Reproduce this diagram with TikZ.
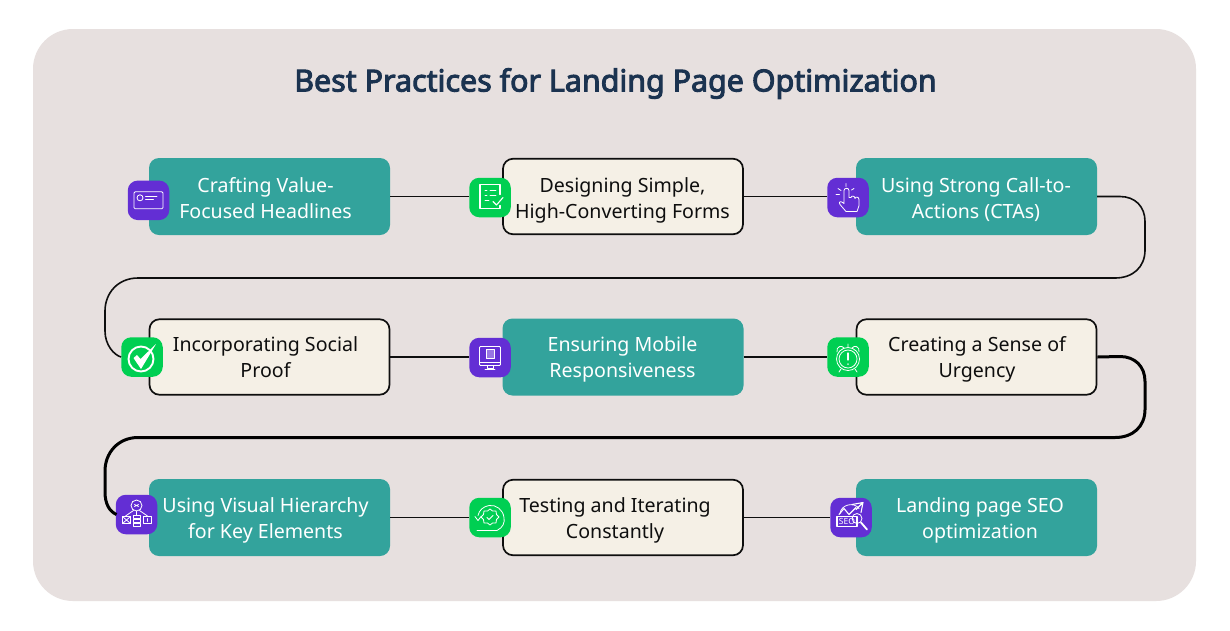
\documentclass[tikz,border=0pt]{standalone}
\usepackage{fontspec}
\setmainfont{Noto Sans}
\newfontfamily\titlefont[FakeBold=3.2]{Noto Sans}
\usetikzlibrary{calc}
\definecolor{panel}{HTML}{E7E0DF}
\definecolor{tealbox}{HTML}{33A39C}
\definecolor{creambox}{HTML}{F5F0E6}
\definecolor{purpleic}{HTML}{632ED4}
\definecolor{greenic}{HTML}{00CF52}
\definecolor{titleink}{HTML}{1B3350}
\definecolor{ink}{HTML}{0E0E0E}
\tikzset{
  tealnode/.style={fill=tealbox,rounded corners=10pt,minimum width=241pt,minimum height=77pt,inner sep=0pt},
  creamnode/.style={fill=creambox,draw=ink,line width=1.7pt,rounded corners=10pt,minimum width=240pt,minimum height=75.5pt,inner sep=0pt},
  lbl/.style={font=\fontsize{19.6}{26}\selectfont,align=center,inner sep=0pt},
  lblw/.style={lbl,text=white},
  lblk/.style={lbl,text=ink},
  purpleicon/.style={fill=purpleic,rounded corners=10pt,minimum width=41.5pt,minimum height=39.5pt,inner sep=0pt},
  greenicon/.style={fill=greenic,rounded corners=10pt,minimum width=41.5pt,minimum height=39.5pt,inner sep=0pt},
  wire/.style={draw=ink,line width=1.6pt},
  thinwire/.style={draw=ink,line width=1.6pt,line join=round},
  thickwire/.style={draw=black,line width=3pt,line join=round},
  gl/.style={draw=white,line width=0.8pt,line cap=round,line join=round},
  glb/.style={draw=white,line width=1.1pt,line cap=round,line join=round},
}
\begin{document}
\begin{tikzpicture}[x=1pt,y=-1pt]
\useasboundingbox (0,0) rectangle (1230,630);
\fill[white] (0,0) rectangle (1230,630);
\fill[panel,rounded corners=40pt] (33,29) rectangle (1196,601);
\node[font=\fontsize{30.4}{34}\selectfont\titlefont,text=titleink,inner sep=0pt] (title) at (615.5,83.5) {Best Practices for Landing Page Optimization};
% boxes
\node[tealnode]  (b1) at (269.5,196.5) {};
\node[creamnode] (b2) at (623,196.5) {};
\node[tealnode]  (b3) at (976.5,196.5) {};
\node[creamnode] (b4) at (269.5,357) {};
\node[tealnode]  (b5) at (623,357) {};
\node[creamnode] (b6) at (976.5,357) {};
\node[tealnode]  (b7) at (269.5,517.5) {};
\node[creamnode] (b8) at (623,517.5) {};
\node[tealnode]  (b9) at (976.5,517.5) {};
% labels
\node[lblw] (t1) at (265.5,198) {Crafting Value-\\Focused Headlines};
\node[lblk] (t2) at (622.5,200) {Designing Simple,\\High-Converting Forms};
\node[lblw] (t3) at (976,200) {Using Strong Call-to-\\Actions (CTAs)};
\node[lblk] (t4) at (265.5,357) {Incorporating Social\\Proof};
\node[lblw] (t5) at (622.5,359) {Ensuring Mobile\\Responsiveness};
\node[lblk] (t6) at (977,359) {Creating a Sense of\\Urgency};
\node[lblw] (t7) at (265.5,520) {Using Visual Hierarchy\\for Key Elements};
\node[lblk] (t8) at (615,520) {Testing and Iterating\\Constantly};
\node[lblw] (t9) at (980,520) {Landing page SEO\\optimization};
% icon tiles
\node[purpleicon] (i1) at (148.5,200.3) {};
\node[greenicon]  (i2) at (490,197.5) {};
\node[purpleicon] (i3) at (848,197.5) {};
\node[greenicon]  (i4) at (142,357) {};
\node[purpleicon] (i5) at (490,357.5) {};
\node[greenicon]  (i6) at (848,357) {};
\node[purpleicon] (i7) at (136.5,514.5) {};
\node[greenicon]  (i8) at (490,517.5) {};
\node[purpleicon] (i9) at (851,517.5) {};
% connectors
\draw[wire] (b1.east) -- (i2.west |- b1.east);
\draw[wire] (b2.east) -- (i3.west |- b2.east);
\draw[wire] (b4.east) -- (i5.west |- b4.east);
\draw[wire] (b5.east) -- (i6.west |- b5.east);
\draw[wire] (b7.east) -- (i8.west |- b7.east);
\draw[wire] (b8.east) -- (i9.west |- b8.east);
\coordinate (ra) at (1145,196.5);
\coordinate (rb) at (1145,278);
\coordinate (rc) at (138,278);
\coordinate (rd) at (105,311);
\coordinate (re) at (105,331);
\draw[thinwire] (b3.east) -- ($(ra)+(-25,0)$) .. controls ($(ra)+(-10,0)$) and ($(ra)+(0,10)$) .. ($(ra)+(0,25)$)
  -- ($(rb)+(0,-28)$) .. controls ($(rb)+(0,-11)$) and ($(rb)+(-12,0)$) .. ($(rb)+(-30,0)$)
  -- (rc) .. controls ($(rc)+(-20,0)$) and ($(rd)+(0,-18)$) .. (rd)
  -- (re) .. controls ($(re)+(0,14)$) and ($(i4.west)+(-7,-2)$) .. (i4.west);
\coordinate (sa) at (1145,356.5);
\coordinate (sb) at (1145,437.5);
\coordinate (sc) at (138,437.5);
\coordinate (sd) at (105,471);
\coordinate (se) at (105,492);
\draw[thickwire] (b6.east) -- ($(sa)+(-25,0)$) .. controls ($(sa)+(-10,0)$) and ($(sa)+(0,10)$) .. ($(sa)+(0,25)$)
  -- ($(sb)+(0,-28)$) .. controls ($(sb)+(0,-11)$) and ($(sb)+(-12,0)$) .. ($(sb)+(-30,0)$)
  -- (sc) .. controls ($(sc)+(-20,0)$) and ($(sd)+(0,-18)$) .. (sd)
  -- (se) .. controls ($(se)+(0,12)$) and ($(i7.west)+(-6,-3)$) .. ($(i7.west)+(1,0)$);
% glyph 1: id card
\begin{scope}[shift={(i1.center)}]
\draw[gl,rounded corners=1.2pt] (-14.5,-8.5) rectangle (14.5,8.5);
\draw[gl] (-8.5,-2.5) circle (3);
\draw[gl] (-3,-3.5) -- (8.5,-3.5);
\draw[gl] (-3,-0.5) -- (5,-0.5);
\end{scope}
% glyph 2: form with tick
\begin{scope}[shift={(i2.center)}]
\draw[glb] (10,-3) -- (10,-13) -- (-10,-13) -- (-10,11) -- (10,11) -- (10,8);
\draw[gl] (-5,-7.5) -- (-3,-7.5) (0,-7.5) -- (6,-7.5) (-5,-2.5) -- (-3,-2.5) (0,-2.5) -- (6,-2.5) (-5,2.5) -- (-1,2.5);
\draw[glb] (3,4) -- (6.5,7.5) -- (13,0);
\end{scope}
% glyph 3: pointing hand
\begin{scope}[shift={(i3.center)}]
\draw[gl] (-4,-1) -- (-4,6) .. controls (-7,3) and (-10,4) .. (-8,7) -- (-2,14) -- (9,14) -- (11,8) -- (11,2) .. controls (11,-1) and (7,-1) .. (7,1) .. controls (7,-2) and (3,-2) .. (3,0) -- (1,0) -- (1,-7) .. controls (1,-10) and (-4,-10) .. (-4,-7) -- cycle;
\draw[gl] (-2,-14) -- (-2,-11) (-10,-9) -- (-7,-7) (6,-9) -- (3.5,-7.5) (-12,-3) -- (-8.5,-3);
\end{scope}
% glyph 4: bold check in ring
\begin{scope}[shift={(i4.center)}]
\draw[white,line width=1.9pt] (-1,2) circle (12.5);
\fill[white] (-8.5,1) -- (-5,-2) -- (-1.5,2) -- (14,-13) -- (-1,12) -- cycle;
\end{scope}
% glyph 5: monitor with tablet
\begin{scope}[shift={(i5.center)}]
\draw[gl,rounded corners=1pt] (-10.5,-11) rectangle (10.5,8);
\draw[gl] (-10.5,4.5) -- (10.5,4.5);
\draw[gl] (-4,-8) rectangle (4,1);
\fill[white,opacity=.35] (-4,-8) rectangle (4,1);
\draw[gl] (-3,8) -- (-3,10.5) -- (3,10.5) -- (3,8) (-5,11.5) -- (5,11.5);
\end{scope}
% glyph 6: alarm clock
\begin{scope}[shift={(i6.center)}]
\draw[gl] (0,2) circle (11.5);
\draw[gl] (0,2) circle (9);
\draw[gl] (-11,-5) .. controls (-12,-11) and (-6,-12) .. (-4,-9) (11,-5) .. controls (12,-11) and (6,-12) .. (4,-9);
\draw[gl] (0,-9.5) -- (0,-13) (-7,12) -- (-9,15) (7,12) -- (9,15);
\draw[glb] (0,-4) -- (0,3) (0,7) -- (0,7.2);
\end{scope}
% glyph 7: hierarchy
\begin{scope}[shift={(i7.center)}]
\draw[gl] (0,-9) circle (5.5);
\draw[gl] (-2,-10) -- (2,-8) (2,-10) -- (-2,-8);
\draw[gl] (0,-3.5) -- (0,0.5) (-3,-4) -- (-11,1.5) (3,-4) -- (11,1.5);
\draw[gl] (-14,2) rectangle (-6,9) (-14,2) -- (-6,9) (-14,9) -- (-6,2);
\draw[gl] (-3.5,1) rectangle (3.5,4) (-3.5,5) rectangle (3.5,8) (-3.5,9) rectangle (3.5,12);
\draw[gl] (7,2) rectangle (15,9) (11,4) -- (11,7);
\end{scope}
% glyph 8: cycle with gear
\begin{scope}[shift={(i8.center)}]
\draw[gl] (-13,13) -- (7,13) .. controls (13,10) and (15,5) .. (14,0) .. controls (13,-8) and (6,-13) .. (-1,-12) .. controls (-7,-11) and (-11,-7) .. (-12,-2);
\draw[gl] (-15,-1) -- (-12,3) -- (-9,-1);
\draw[gl] (0,-8.5) -- (2.5,-6.5) -- (6,-6.5) -- (6.5,-3) -- (9,-0.5) -- (6.5,2) -- (6,5.5) -- (2.5,5.5) -- (0,7.5) -- (-2.5,5.5) -- (-6,5.5) -- (-6.5,2) -- (-9,-0.5) -- (-6.5,-3) -- (-6,-6.5) -- (-2.5,-6.5) -- cycle;
\draw[gl] (-3,0) -- (-1,2) -- (3,-2);
\end{scope}
% glyph 9: SEO chart and magnifier
\begin{scope}[shift={(i9.center)}]
\draw[gl] (-11,-4) .. controls (-10,-13) and (3,-16) .. (8,-9);
\draw[glb] (-12,-3) -- (-7,-9) -- (-2,-3) -- (5,-10);
\draw[glb] (1,-13) -- (12,-15) -- (10,-5) (12,-15) -- (5,-8);
\draw[glb] (-14,-1) rectangle (6,9);
\node[text=white,font=\fontsize{8.5}{9}\selectfont\bfseries,inner sep=0pt] (seo) at (-4,4) {SEO};
\draw[gl] (6,1) circle (5);
\draw[glb,line width=1.8pt] (10,5) -- (16,12);
\end{scope}
\end{tikzpicture}
\end{document}
